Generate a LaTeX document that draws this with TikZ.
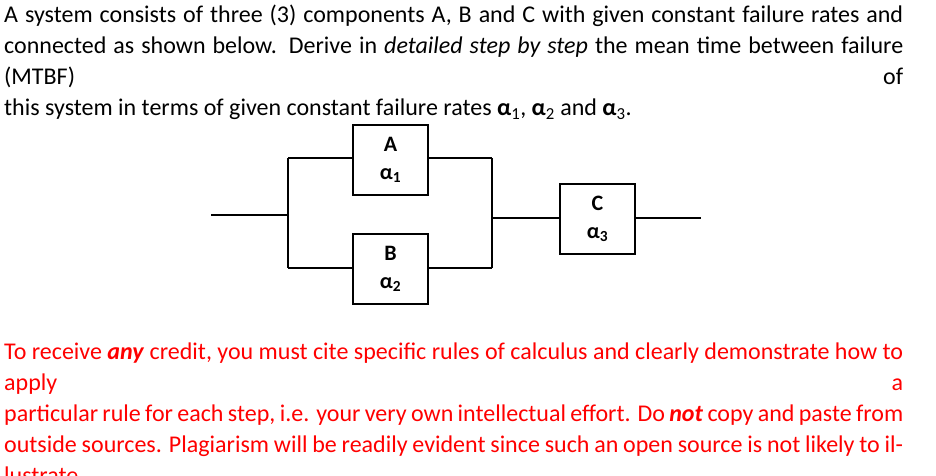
\documentclass[tikz,border=0pt]{standalone}
\usepackage{fontspec}
\setmainfont{Carlito}
\newcommand{\alf}[1]{\textbf{α}\textsubscript{#1}}
\begin{document}
\begin{tikzpicture}[x=1pt,y=-1pt,
  blk/.style={draw,line width=1.6pt,minimum width=75pt,minimum height=70pt,inner sep=0pt,align=center,font=\bfseries\fontsize{22}{30}\selectfont},
  wire/.style={line width=2.6pt},
  txt/.style={anchor=north west,inner sep=0pt,text width=899pt,align=justify,font=\fontsize{24}{31}\selectfont}]
\useasboundingbox (0,0) rectangle (936,475);
\node[txt] (q) at (4,5) {A system consists of three (3) components A, B and C with given constant failure rates and\linebreak connected as shown below. Derive in \emph{detailed step by step} the mean time between failure (MTBF) of\linebreak this system in terms of given constant failure rates \alf{1}, \alf{2} and \alf{3}.};
\node[blk] (A) at (390.5,160) {A\\[-2pt]\alf{1}};
\node[blk] (B) at (390.5,269) {B\\[-2pt]\alf{2}};
\node[blk] (C) at (597.5,219) {C\\[-2pt]\alf{3}};
\coordinate (in) at (211,215);
\coordinate (out) at (701,218);
\coordinate (lt) at (288,158); \coordinate (lb) at (288,268);
\coordinate (rt) at (492,158); \coordinate (rb) at (492,268);
\draw[wire] (in) -- (288,215);
\draw[wire] (lt) -- (lb);
\draw[wire] (rt) -- (rb);
\draw[wire] (lt) -- (lt -| A.west);
\draw[wire] (lb) -- (lb -| B.west);
\draw[wire] (A.east |- rt) -- (rt);
\draw[wire] (B.east |- rb) -- (rb);
\draw[wire] (492,218) -- (C.west |- 492,218);
\draw[wire] (C.east |- out) -- (out);
\node[txt,text=red] (r) at (4,343) {To receive \textbf{\emph{any}} credit, you must cite specific rules of calculus and clearly demonstrate how to apply a\linebreak particular rule for each step, i.e. your very own intellectual effort. Do \textbf{\emph{not}} copy and paste from\linebreak outside sources. Plagiarism will be readily evident since such an open source is not likely to illustrate\linebreak the detailed step by step derivation as required above.};
\end{tikzpicture}
\end{document}
